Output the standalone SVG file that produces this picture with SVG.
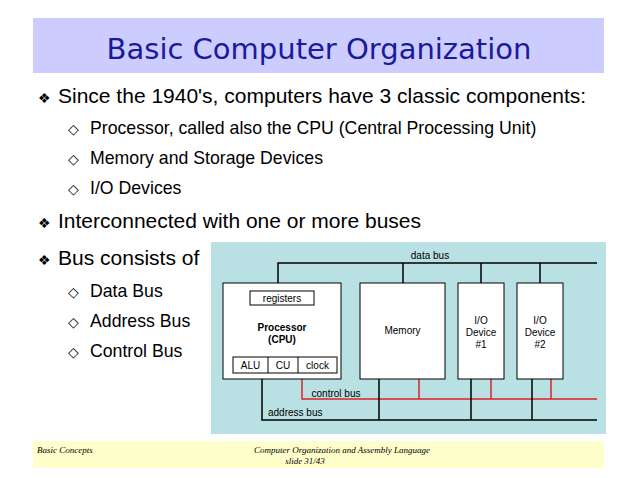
<svg xmlns="http://www.w3.org/2000/svg" width="638" height="478" viewBox="0 0 638 478">
<style>
text{font-family:"Liberation Sans",Arial,sans-serif}
.b{fill:#fff;stroke:#000;stroke-width:1}
.l{stroke:#000;stroke-width:1.5;fill:none}
.r{stroke:#e0202a;stroke-width:1.5;fill:none}
.s{font-size:10px}
.bul{font-size:21px}
.sub{font-size:17.7px}
.dm{font-size:14px}
.ft{font-family:"Liberation Serif",serif;font-style:italic;font-size:9px}
</style>
<rect width="638" height="478" fill="#fff"/>
<rect x="33" y="18" width="571" height="55" fill="#ccccff"/>
<text x="319" y="59" text-anchor="middle" font-size="29" fill="#1a1a9a" style="font-family:'DejaVu Sans',sans-serif">Basic Computer Organization</text>
<g>
<text x="38" y="103" class="dm">❖</text><text x="58" y="103" class="bul">Since the 1940's, computers have 3 classic components:</text>
<text x="68" y="134" class="dm">◇</text><text x="90" y="134" class="sub">Processor, called also the CPU (Central Processing Unit)</text>
<text x="68" y="164" class="dm">◇</text><text x="90" y="164" class="sub">Memory and Storage Devices</text>
<text x="68" y="194" class="dm">◇</text><text x="90" y="194" class="sub">I/O Devices</text>
<text x="38" y="228" class="dm">❖</text><text x="58" y="228" class="bul">Interconnected with one or more buses</text>
<text x="38" y="265" class="dm">❖</text><text x="58" y="265" class="bul">Bus consists of</text>
<text x="68" y="297" class="dm">◇</text><text x="90" y="297" class="sub">Data Bus</text>
<text x="68" y="327" class="dm">◇</text><text x="90" y="327" class="sub">Address Bus</text>
<text x="68" y="357" class="dm">◇</text><text x="90" y="357" class="sub">Control Bus</text>
</g>
<rect x="211" y="242" width="395" height="192" fill="#b9e0e2"/>
<g id="connectors">
<path class="l" d="M278 283V263H597M403 283V263M481 283V263M540 283V263"/>
<path class="r" d="M302 379V399H597M419 379V399M491 379V399M551 379V399"/>
<path class="l" d="M262 379V420H597M379 379V420M471 379V420M532 379V420"/>
<text x="430" y="259" class="s" text-anchor="middle">data bus</text>
<text x="336" y="397" class="s" text-anchor="middle">control bus</text>
<text x="268" y="416" class="s">address bus</text>
</g>
<g id="cpu">
<rect class="b" x="223" y="283" width="118" height="96"/>
<rect class="b" x="250" y="291" width="64" height="14"/>
<text x="282" y="302" class="s" text-anchor="middle">registers</text>
<text x="282" y="331" class="s" text-anchor="middle" font-weight="bold">Processor</text>
<text x="282" y="343" class="s" text-anchor="middle" font-weight="bold">(CPU)</text>
<rect class="b" x="233" y="357" width="104" height="16"/>
<path d="M268 357V373M298 357V373" stroke="#000" stroke-width="1"/>
<text x="250.5" y="369" class="s" text-anchor="middle">ALU</text>
<text x="283" y="369" class="s" text-anchor="middle">CU</text>
<text x="317.5" y="369" class="s" text-anchor="middle">clock</text>
</g>
<g id="memory"><rect class="b" x="360" y="283" width="85" height="96"/><text x="402.5" y="334" class="s" text-anchor="middle">Memory</text></g>
<g id="io1"><rect class="b" x="458" y="283" width="46" height="96"/><text x="481" y="324" class="s" text-anchor="middle">I/O</text><text x="481" y="336" class="s" text-anchor="middle">Device</text><text x="481" y="348" class="s" text-anchor="middle">#1</text></g>
<g id="io2"><rect class="b" x="517" y="283" width="46" height="96"/><text x="540" y="324" class="s" text-anchor="middle">I/O</text><text x="540" y="336" class="s" text-anchor="middle">Device</text><text x="540" y="348" class="s" text-anchor="middle">#2</text></g>
<rect x="33" y="441" width="571" height="27" fill="#ffffcc"/>
<text x="37" y="453" class="ft">Basic Concepts</text>
<text x="342" y="453" class="ft" text-anchor="middle">Computer Organization and Assembly Language</text>
<text x="305" y="464" class="ft" text-anchor="middle">slide 31/43</text>
</svg>
